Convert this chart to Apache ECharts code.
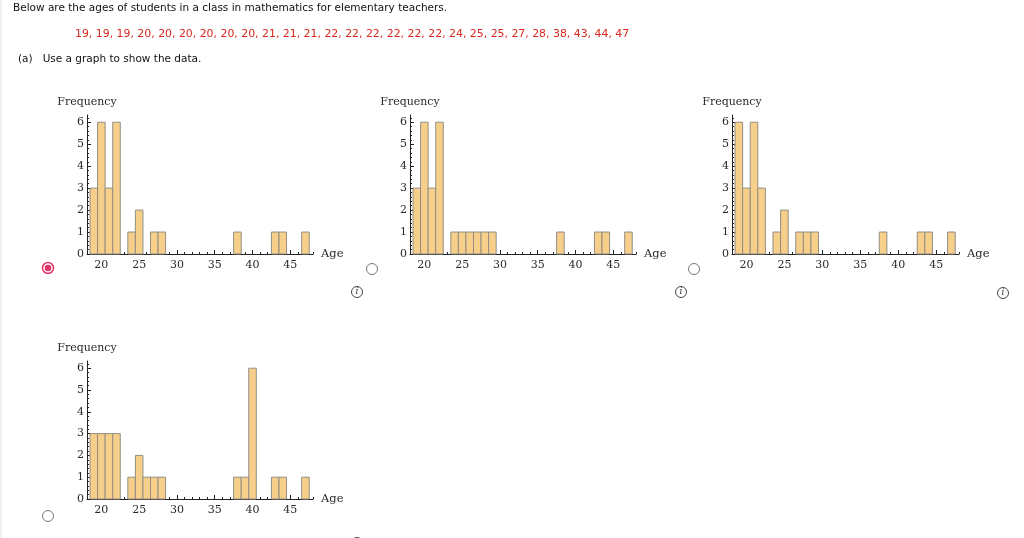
<!DOCTYPE html>
<html>
<head>
<meta charset="utf-8">
<script src="https://cdn.jsdelivr.net/npm/echarts@6.0.0/dist/echarts.min.js"></script>
<style>
  html, body { margin: 0; padding: 0; background: #fff; }
  #main { width: 1024px; height: 538px; }
</style>
</head>
<body>
<div id="main"></div>
<script>
// ages listed in the question
const ages = [19, 19, 19, 20, 20, 20, 20, 20, 20, 21, 21, 21, 22, 22, 22, 22, 22, 22,
  24, 25, 25, 27, 28, 38, 43, 44, 47];

// histogram choices (bin = age, bar width 1)
const binsA = [19, 20, 21, 22, 24, 25, 27, 28, 38, 43, 44, 47];
const countsA = [3, 6, 3, 6, 1, 2, 1, 1, 1, 1, 1, 1];
const binsB = [19, 20, 21, 22, 24, 25, 26, 27, 28, 29, 38, 43, 44, 47];
const countsB = [3, 6, 3, 6, 1, 1, 1, 1, 1, 1, 1, 1, 1, 1];
const binsC = [19, 20, 21, 22, 24, 25, 27, 28, 29, 38, 43, 44, 47];
const countsC = [6, 3, 6, 3, 1, 2, 1, 1, 1, 1, 1, 1, 1];
const binsD = [19, 20, 21, 22, 24, 25, 26, 27, 28, 38, 39, 40, 43, 44, 47];
const countsD = [3, 3, 3, 3, 1, 2, 1, 1, 1, 1, 1, 6, 1, 1, 1];

const xTicks = [20, 25, 30, 35, 40, 45];
const yTicks = [0, 1, 2, 3, 4, 5, 6];

const serif = "'DejaVu Serif', serif";
const sans = "'DejaVu Sans', Verdana, sans-serif";
const axisColor = "#222";
const labelColor = "#2a2a2a";

// minor tick positions
let xMinor = [];
for (let i = 19; i <= 48; i++) xMinor.push(i);
let yMinor = [];
for (let i = 0; i <= 31; i++) yMinor.push(+(i * 0.2).toFixed(1));

// plot frames (px)
const grids = [
  { left: 87, top: 115, width: 226, height: 139 },
  { left: 410, top: 115, width: 226, height: 139 },
  { left: 732, top: 115, width: 227, height: 139 },
  { left: 87, top: 361, width: 226, height: 138 },
];
const hists = [
  [binsA, countsA],
  [binsB, countsB],
  [binsC, countsC],
  [binsD, countsD],
];

let xAxes = [], yAxes = [], series = [];
grids.forEach((g, i) => {
  xAxes.push({
    type: "value", gridIndex: i, min: 18.1, max: 48, position: "bottom",
    name: "Age", nameLocation: "end", nameGap: 8,
    nameTextStyle: { fontFamily: serif, fontSize: 11.5, color: labelColor },
    axisLine: { onZero: false, lineStyle: { color: axisColor, width: 1 } },
    splitLine: { show: false },
    axisTick: { inside: true, length: 4, customValues: xTicks, lineStyle: { color: axisColor } },
    axisLabel: { customValues: xTicks, margin: 6, fontFamily: serif, fontSize: 11, color: labelColor },
  });
  xAxes.push({
    type: "value", gridIndex: i, min: 18.1, max: 48, position: "bottom",
    axisLine: { show: false }, splitLine: { show: false }, axisLabel: { show: false },
    axisTick: { inside: true, length: 2, customValues: xMinor, lineStyle: { color: axisColor } },
  });
  yAxes.push({
    type: "value", gridIndex: i, min: 0, max: 6.33, position: "left",
    name: "Frequency", nameLocation: "end", nameGap: 7,
    nameTextStyle: { fontFamily: serif, fontSize: 11, color: labelColor },
    axisLine: { show: true, onZero: false, lineStyle: { color: axisColor, width: 1 } },
    splitLine: { show: false },
    axisTick: { show: true, inside: true, length: 4, customValues: yTicks, lineStyle: { color: axisColor } },
    axisLabel: { customValues: yTicks, margin: 3, fontFamily: serif, fontSize: 11, color: labelColor },
  });
  yAxes.push({
    type: "value", gridIndex: i, min: 0, max: 6.33, position: "left",
    axisLine: { show: false }, splitLine: { show: false }, axisLabel: { show: false },
    axisTick: { show: true, inside: true, length: 2, customValues: yMinor, lineStyle: { color: axisColor } },
  });
  const bins = hists[i][0], counts = hists[i][1];
  series.push({
    type: "custom",
    xAxisIndex: 2 * i, yAxisIndex: 2 * i,
    encode: { x: 0, y: 1 },
    data: bins.map((b, k) => [b, counts[k]]),
    renderItem: function (params, api) {
      const x = api.value(0), n = api.value(1);
      const p0 = api.coord([x - 0.5, 0]);
      const p1 = api.coord([x + 0.5, n]);
      return {
        type: "rect",
        shape: { x: p0[0], y: p1[1], width: p1[0] - p0[0], height: p0[1] - p1[1] },
        style: { fill: "#f6cf8b", stroke: "#948e84", lineWidth: 1 },
      };
    },
  });
});

// radio buttons and info icons
function radio(x, y, on) {
  if (on) {
    return [
      { type: "circle", shape: { cx: x, cy: y, r: 5.5 }, style: { fill: "#fff", stroke: "#e3356b", lineWidth: 1.5 } },
      { type: "circle", shape: { cx: x, cy: y, r: 3.3 }, style: { fill: "#e3356b" } },
    ];
  }
  return [{ type: "circle", shape: { cx: x, cy: y, r: 5.5 }, style: { fill: "#fff", stroke: "#777", lineWidth: 1 } }];
}
function info(x, y) {
  return [
    { type: "circle", shape: { cx: x, cy: y, r: 5.5 }, style: { fill: "none", stroke: "#444", lineWidth: 1 } },
    { type: "text", x: x, y: y, style: { text: "i", font: "italic 9px 'DejaVu Serif', serif", fill: "#333", align: "center", verticalAlign: "middle" } },
  ];
}

const graphics = [
  { type: "line", shape: { x1: 1, y1: 0, x2: 1, y2: 538 }, style: { stroke: "#e2e2e2", lineWidth: 1 } },
  { type: "text", x: 13, y: 8.5, style: { text: "Below are the ages of students in a class in mathematics for elementary teachers.", font: "10.5px " + sans, fill: "#111", verticalAlign: "middle" } },
  { type: "text", x: 75, y: 34, style: { text: ages.join(", "), font: "10.9px " + sans, fill: "#d8281f", verticalAlign: "middle" } },
  { type: "text", x: 18, y: 59, style: { text: "(a)   Use a graph to show the data.", font: "10.5px " + sans, fill: "#111", verticalAlign: "middle" } },
].concat(
  radio(48, 268, true), radio(372, 269, false), radio(694, 269, false), radio(48, 516, false),
  info(357, 292), info(681, 292), info(1003, 293), info(357, 543)
);

const chart = echarts.init(document.getElementById("main"));
chart.setOption({
  animation: false,
  grid: grids,
  xAxis: xAxes,
  yAxis: yAxes,
  series: series,
  graphic: graphics,
});
</script>
</body>
</html>
